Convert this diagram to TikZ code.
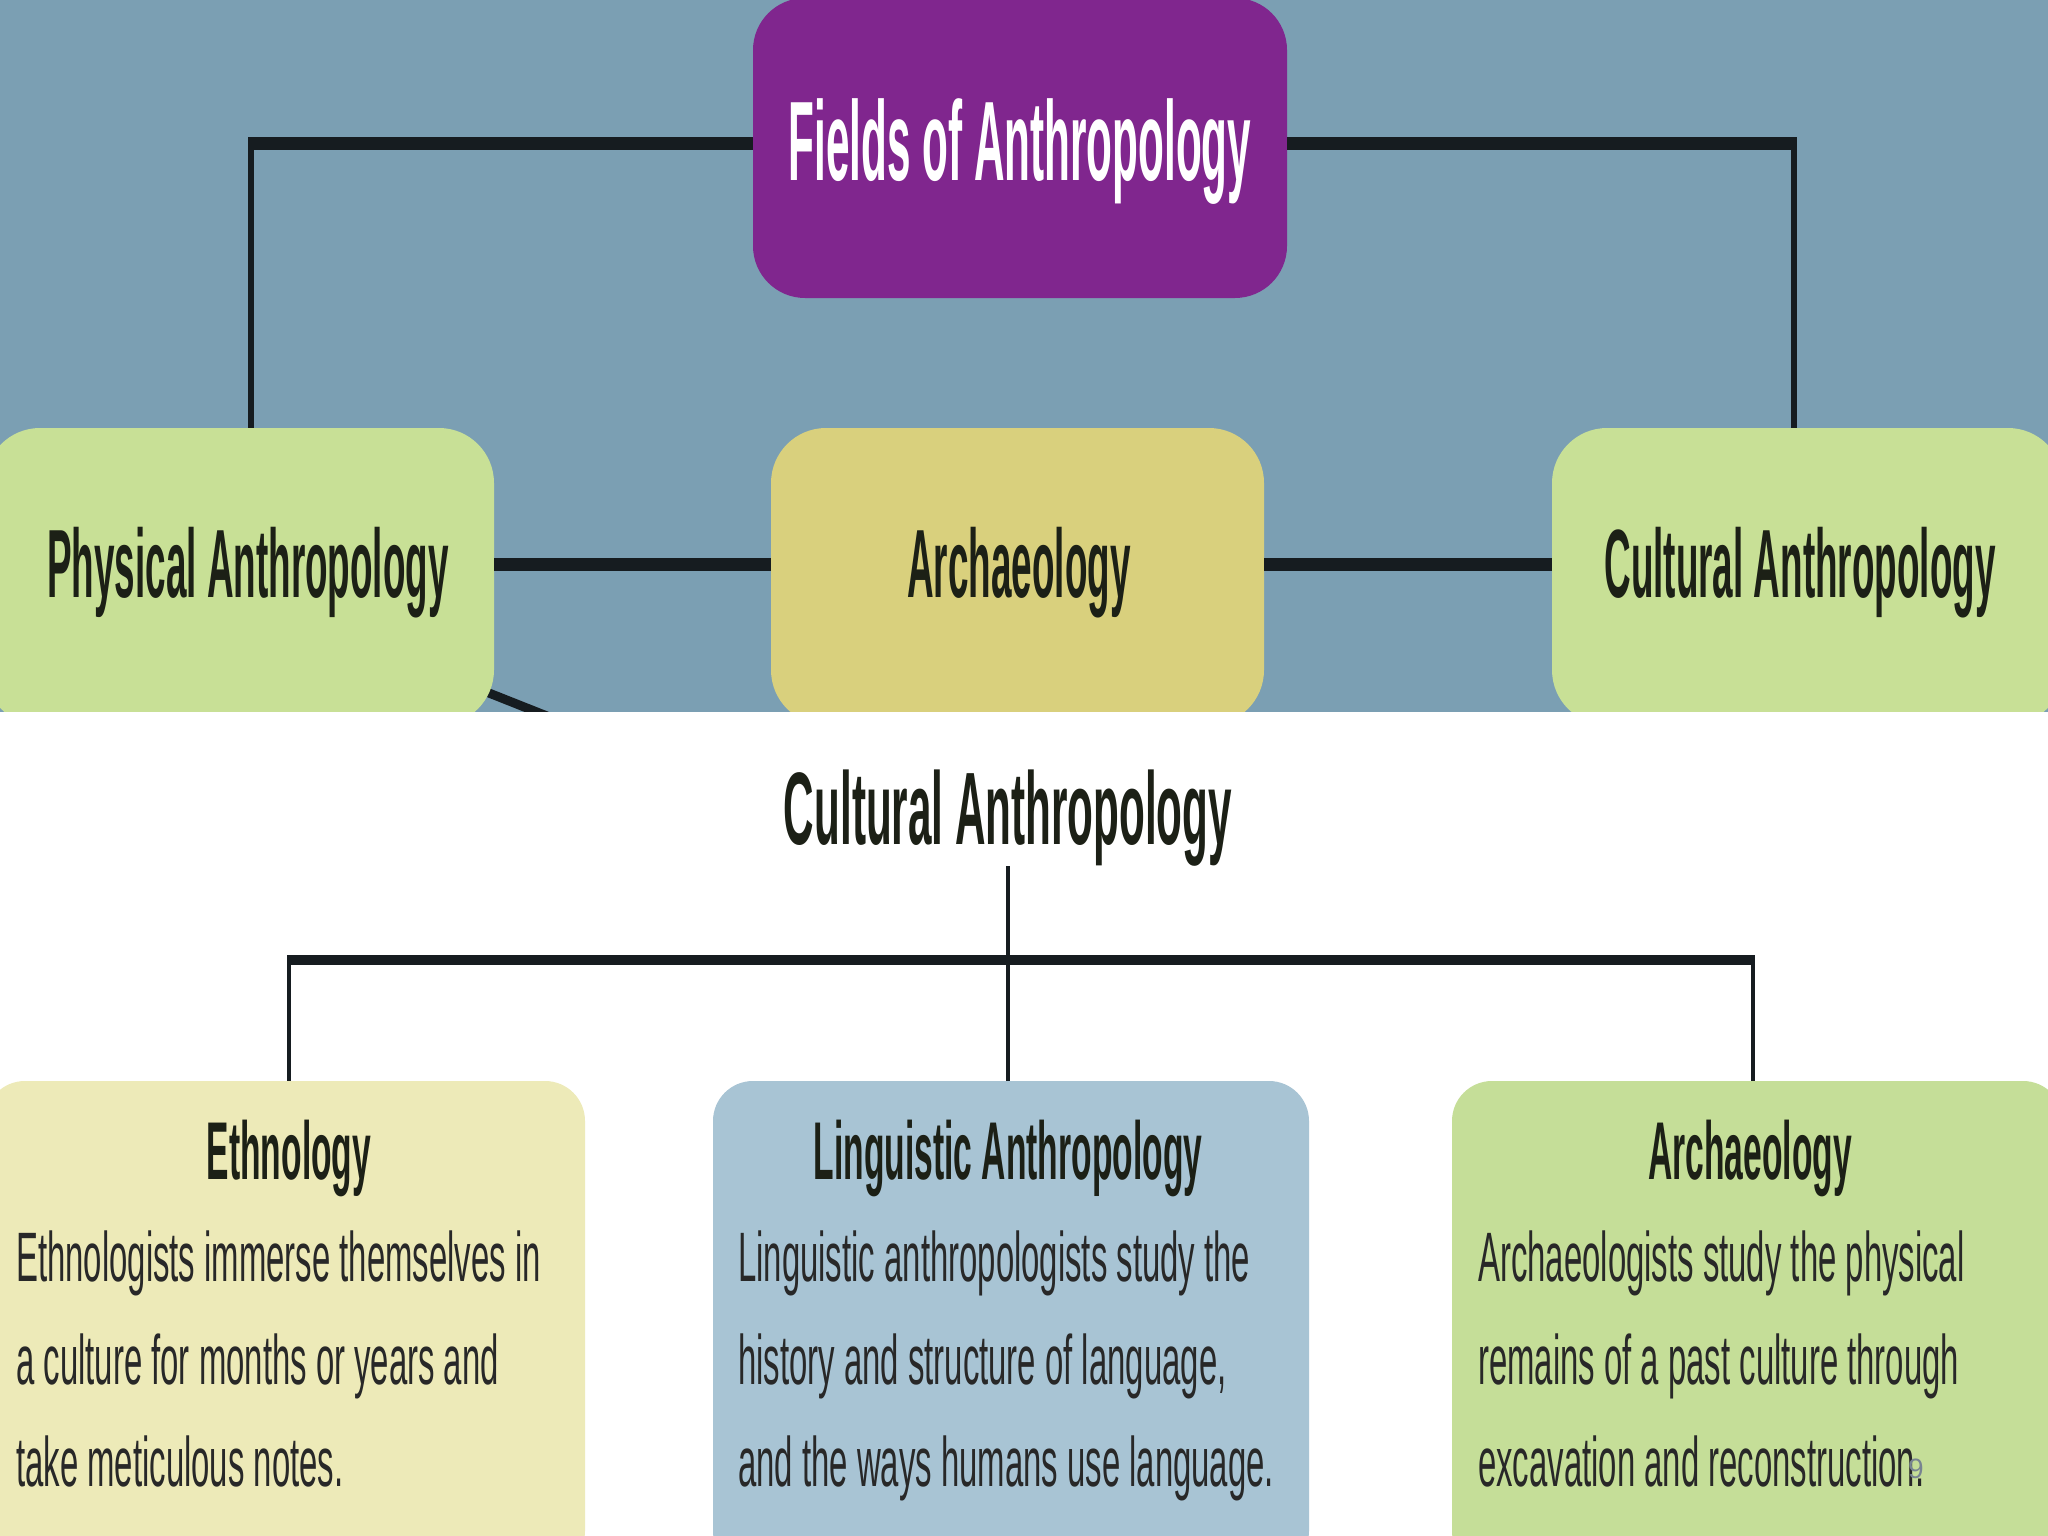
\documentclass[tikz,border=0pt]{standalone}
\usepackage{fontspec}
\newfontfamily\condtitle{Liberation Sans}[FakeStretch=0.374]
\newfontfamily\condmid{Liberation Sans}[FakeStretch=0.38]
\newfontfamily\condbold{Liberation Sans}[FakeStretch=0.41]
\newfontfamily\condreg{Liberation Sans}[FakeStretch=0.47]
\definecolor{bgblue}{RGB}{123,159,179}
\definecolor{purp}{RGB}{128,38,142}
\definecolor{lgreen}{RGB}{200,224,150}
\definecolor{tan}{RGB}{217,208,125}
\definecolor{lyellow}{RGB}{237,234,184}
\definecolor{lblue}{RGB}{168,196,212}
\definecolor{bgreen}{RGB}{197,222,152}
\definecolor{linec}{RGB}{22,28,32}
\definecolor{txtdark}{RGB}{28,32,22}
\definecolor{bodytxt}{RGB}{40,40,40}
\begin{document}
\begin{tikzpicture}[x=1pt,y=-1pt,
  fbox/.style={rounded corners=52pt, inner sep=0pt, draw=none},
  thickline/.style={line width=13pt, color=linec},
  thinline/.style={line width=6.5pt, color=linec},
  thickb/.style={line width=10pt, color=linec},
  thinb/.style={line width=4pt, color=linec},
  titletext/.style={font=\condtitle\bfseries\fontsize{113}{120}\selectfont, text=white, inner sep=0pt, anchor=base},
  midtext/.style={font=\condmid\bfseries\fontsize{97}{104}\selectfont, text=txtdark, inner sep=0pt, anchor=base},
  headtext/.style={font=\condbold\bfseries\fontsize{103}{110}\selectfont, text=txtdark, inner sep=0pt, anchor=base},
  boxtitle/.style={font=\condbold\bfseries\fontsize{82}{90}\selectfont, text=txtdark, inner sep=0pt, anchor=base},
  bodyline/.style={font=\condreg\fontsize{70}{80}\selectfont, text=bodytxt, inner sep=0pt, anchor=base west},
]
\useasboundingbox (0,0) rectangle (2048,1536);
\clip (0,0) rectangle (2048,1536);
% top band
\fill[bgblue] (0,0) rectangle (2048,712);
\coordinate (lc) at (251,144);
\coordinate (rc) at (1794,144);
\coordinate (diagstart) at (239.5,594);
\coordinate (diagend) at (620,745);
% diagonal fragment, behind the box and the white panel
\draw[line width=9pt, linec] (diagstart) -- (diagend);
% boxes
\node[fbox, fill=purp, minimum width=534pt, minimum height=300pt] (fields) at (1020,148) {};
\node[fbox, rounded corners=55pt, fill=lgreen, minimum width=509pt, minimum height=297pt] (phys) at (239.5,576.5) {};
\node[fbox, rounded corners=55pt, fill=tan, minimum width=493pt, minimum height=297pt] (arch) at (1017.5,576.5) {};
\node[fbox, rounded corners=55pt, fill=lgreen, minimum width=511pt, minimum height=297pt] (cult) at (1807.5,576.5) {};
\node[titletext] (fieldslbl) at (1020,180) {Fields of Anthropology};
\node[midtext] (physlbl) at (248,597) {Physical Anthropology};
\node[midtext] (archlbl) at (1019,597) {Archaeology};
\node[midtext] (cultlbl) at (1800,597) {Cultural Anthropology};
% top connectors
\draw[thickline] (lc -| fields.west) -- ([xshift=-3.25pt]lc);
\draw[thinline] (lc) -- (lc |- phys.north);
\draw[thickline] (rc -| fields.east) -- ([xshift=3.25pt]rc);
\draw[thinline] (rc) -- (rc |- cult.north);
\draw[thickline] (phys.east |- 0,564) -- (arch.west |- 0,564);
\draw[thickline] (arch.east |- 0,564) -- (cult.west |- 0,564);
% white lower panel
\fill[white] (0,712) rectangle (2048,1536);
% lower part
\node[headtext] (cah) at (1008,844) {Cultural Anthropology};
\coordinate (hb) at (1008,866);
\coordinate (bl) at (289,960);
\coordinate (br) at (1753,960);
\node[fbox, rounded corners=40pt, fill=lyellow, minimum width=600pt, minimum height=490pt] (eth) at (285,1326) {};
\node[fbox, rounded corners=40pt, fill=lblue, minimum width=596pt, minimum height=490pt] (ling) at (1011,1326) {};
\node[fbox, rounded corners=40pt, fill=bgreen, minimum width=611pt, minimum height=490pt] (arch2) at (1757.5,1326) {};
\draw[thinb] (hb) -- (hb |- ling.north);
\draw[thickb] ([xshift=-2pt]bl) -- ([xshift=2pt]br);
\draw[thinb] (bl) -- (bl |- eth.north);
\draw[thinb] (br) -- (br |- arch2.north);
\node[boxtitle] (ethT) at (289,1179) {Ethnology};
\node[boxtitle] (lingT) at (1008,1179) {Linguistic Anthropology};
\node[boxtitle] (archT) at (1750,1179) {Archaeology};
\node[bodyline] (e1) at (16,1281) {Ethnologists immerse themselves in};
\node[bodyline] (e2) at (16,1384) {a culture for months or years and};
\node[bodyline] (e3) at (16,1486) {take meticulous notes.};
\node[bodyline] (l1) at (738,1281) {Linguistic anthropologists study the};
\node[bodyline] (l2) at (738,1384) {history and structure of language,};
\node[bodyline] (l3) at (738,1486) {and the ways humans use language.};
\node[bodyline] (a1) at (1478,1281) {Archaeologists study the physical};
\node[bodyline] (a2) at (1478,1384) {remains of a past culture through};
\node[bodyline] (a3) at (1478,1486) {excavation and reconstruction.};
\node[font=\fontspec{Liberation Sans}\fontsize{28}{30}\selectfont, text={rgb,255:red,120;green,132;blue,145}, inner sep=0pt, anchor=base] (pg) at (1916,1478) {9};
\end{tikzpicture}
\end{document}
